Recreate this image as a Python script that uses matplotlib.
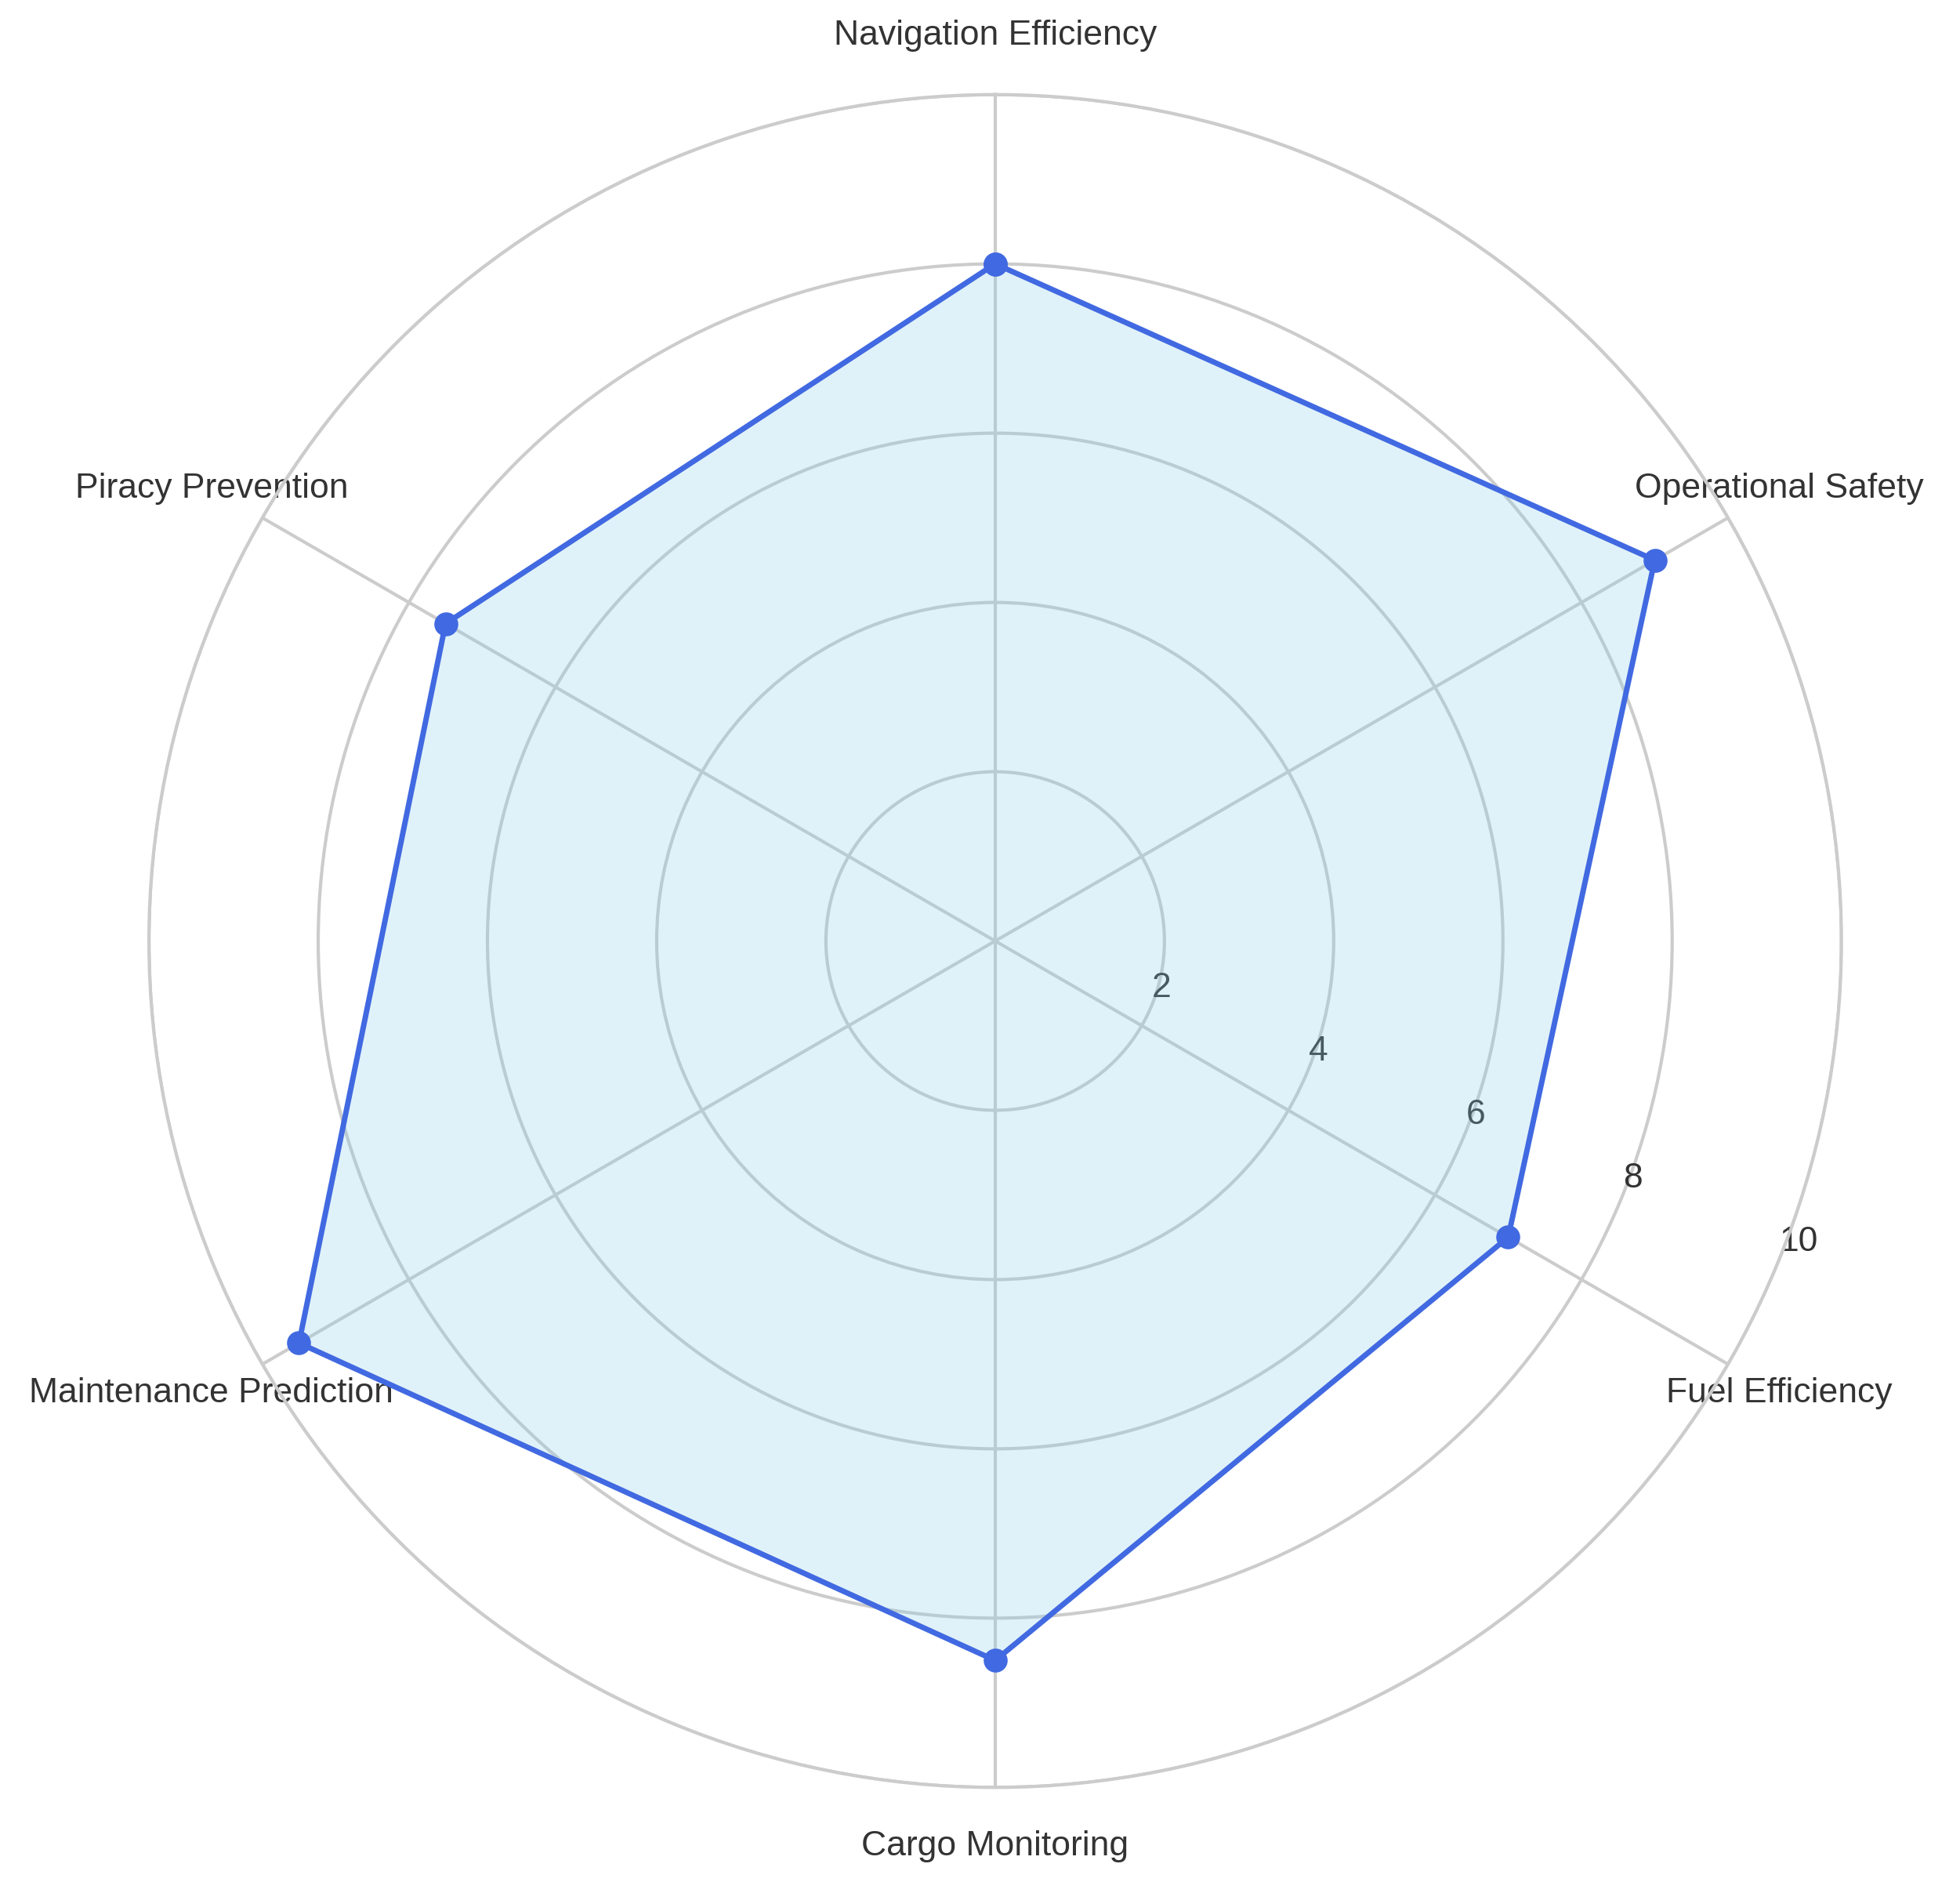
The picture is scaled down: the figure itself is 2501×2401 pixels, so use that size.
import numpy as np
import matplotlib
matplotlib.use("Agg")
import matplotlib.pyplot as plt
import seaborn as sns

sns.set_theme(style="whitegrid")
plt.rcParams['font.family'] = ['Liberation Sans', 'DejaVu Sans']

categories = ["Navigation Efficiency", "Operational Safety", "Fuel Efficiency",
              "Cargo Monitoring", "Maintenance Prediction", "Piracy Prevention"]
values = [8.0, 9.0, 7.0, 8.5, 9.5, 7.5]
rticks = [2, 4, 6, 8, 10]

n = len(categories)
angles = np.linspace(0, 2*np.pi, n, endpoint=False).tolist()
vals = values + values[:1]
ang = angles + angles[:1]

fig = plt.figure(figsize=(12.505, 12.005), dpi=200)
ax = fig.add_axes([0.076, 0.0487, 0.8635, 0.9026], polar=True)
ax.set_theta_offset(np.pi/2)
ax.set_theta_direction(-1)
ax.fill(ang, vals, color='skyblue', alpha=0.25)
ax.plot(ang, vals, color='royalblue', linewidth=2.5, marker='o', markersize=10)
ax.set_xticks(angles)
ax.set_xticklabels(categories, fontsize=16, color='#333333')
ax.set_ylim(0, 10)
ax.set_yticks(rticks)
ax.set_yticklabels([str(t) for t in rticks], fontsize=16, color='#333333')
ax.set_rlabel_position(112)
ax.grid(color='#cccccc', linewidth=1.5)
ax.spines['polar'].set_visible(True)
ax.spines['polar'].set_color('#cccccc')
ax.spines['polar'].set_linewidth(1.5)
ax.tick_params(axis='x', pad=14)
fig.savefig("out.png", dpi=200)
